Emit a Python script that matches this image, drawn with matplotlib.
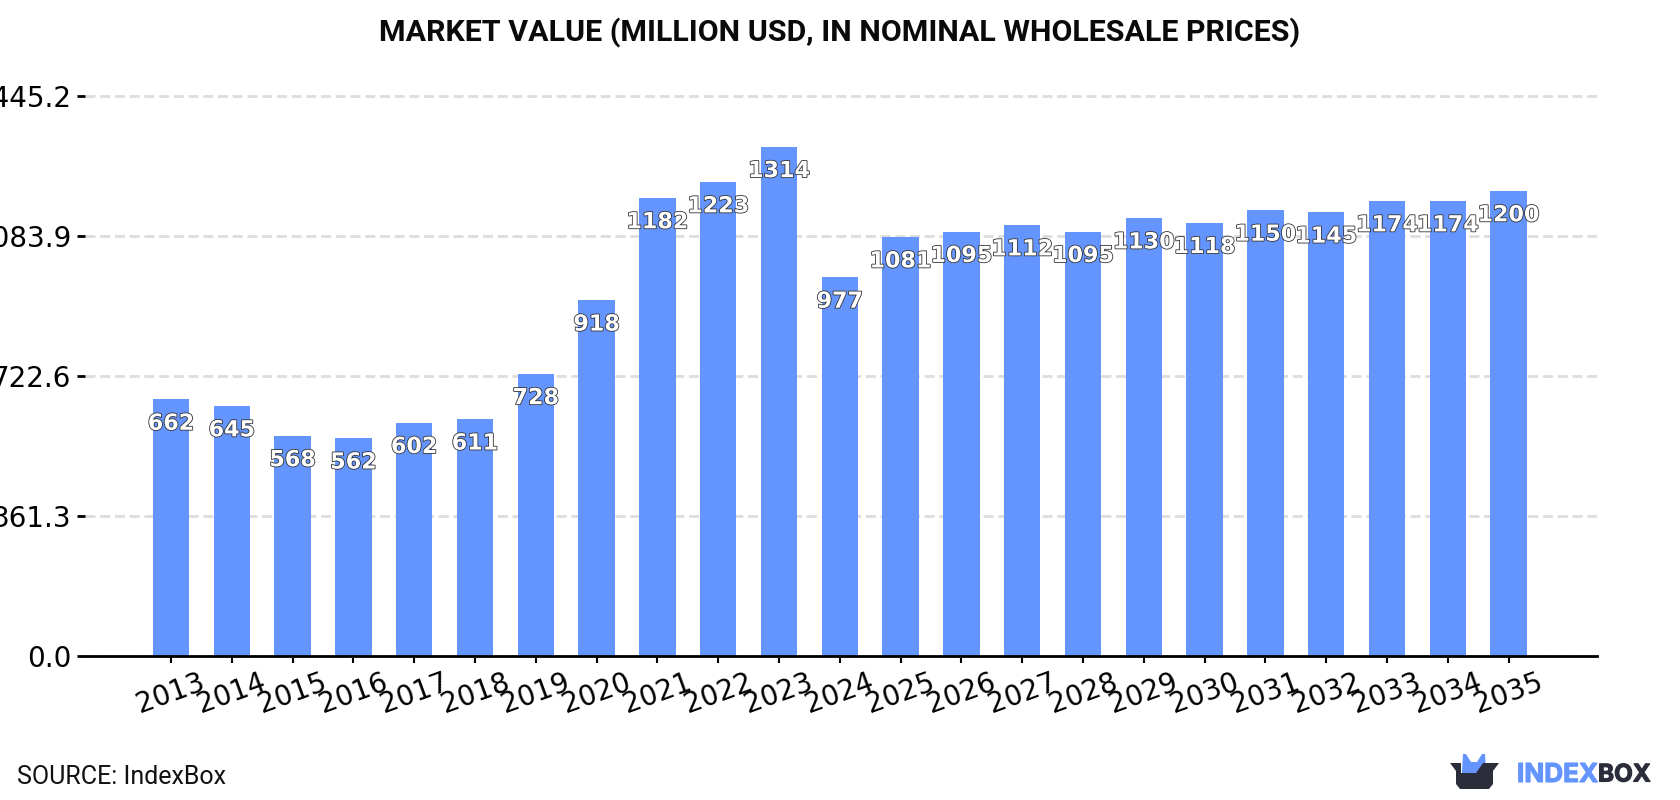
import matplotlib
matplotlib.use('Agg')
import matplotlib.pyplot as plt
import matplotlib.patheffects as pe
from matplotlib.patches import Polygon

years = ['2013', '2014', '2015', '2016', '2017', '2018', '2019', '2020', '2021', '2022', '2023', '2024',
         '2025', '2026', '2027', '2028', '2029', '2030', '2031', '2032', '2033', '2034', '2035']
values = [662, 645, 568, 562, 602, 611, 728, 918, 1182, 1223, 1314, 977,
          1081, 1095, 1112, 1095, 1130, 1118, 1150, 1145, 1174, 1174, 1200]
y_ticks = [0.0, 361.3, 722.6, 1083.9, 1445.2]

BLUE = '#6495ff'
DARK = '#2b2d3a'
W, H = 1680, 800

fig = plt.figure(figsize=(W / 100, H / 100), dpi=100)
left, right, bottom, top = 85, 1597, 656, 96
ax = fig.add_axes([left / W, 1 - bottom / H, (right - left) / W, (bottom - top) / H])

xs = list(range(len(years)))
ax.bar(xs, values, width=0.6, color=BLUE, zorder=2)
ax.set_xlim((left - 171) / 60.8, (right - 171) / 60.8)
ax.set_ylim(0, 1445.2)

for s in ['top', 'right', 'left']:
    ax.spines[s].set_visible(False)
ax.spines['bottom'].set_linewidth(2)

ax.set_yticks(y_ticks)
ax.set_yticklabels([f'{v:.1f}' for v in y_ticks])
ax.set_xticks(xs)
ax.set_xticklabels(years, rotation=20, ha='center')
ax.tick_params(axis='y', labelsize=20, length=5.5, width=2, pad=4.3)
ax.tick_params(axis='x', labelsize=20, length=5, width=1.5, pad=4)
ax.yaxis.grid(True, color='#dddddd', linestyle=(0, (3.6, 1.7)), linewidth=2, zorder=1)
for line in ax.yaxis.get_gridlines():
    line.set_clip_on(False)

# value labels sit just inside the top of each bar
for x, v in zip(xs, values):
    ax.annotate(str(v), (x, v), xytext=(0, -17.5), textcoords='offset points', ha='center', va='center',
                fontsize=16, fontweight='bold', color='white', zorder=3, annotation_clip=False,
                path_effects=[pe.withStroke(linewidth=1.2, foreground='#333333')])

fig.text(0.5, 1 - 33 / H, 'MARKET VALUE (MILLION USD, IN NOMINAL WHOLESALE PRICES)', ha='center', va='center',
         fontsize=21.9, fontweight='bold', family='Roboto', color='#0a0a0a')
fig.text(17 / W, 1 - 777 / H, 'SOURCE: IndexBox', ha='left', va='center', fontsize=18, family='Roboto', color='#111111')

# logo in pixel coordinates
logo = fig.add_axes([0, 0, 1, 1], zorder=5)
logo.set_xlim(0, W)
logo.set_ylim(H, 0)
logo.axis('off')
logo.add_patch(Polygon([[1462, 770], [1463, 754], [1466, 754], [1471, 762], [1477, 762], [1482, 754], [1485, 754],
                       [1486, 770], [1478, 773], [1462, 773]], closed=True, color=BLUE, lw=0))
logo.add_patch(Polygon([[1450, 763], [1461, 763], [1461, 773], [1476, 773], [1483, 763], [1499, 763], [1493, 771],
                       [1493, 784], [1489, 789], [1460, 789], [1456, 784], [1456, 771]], closed=True, color=DARK, lw=0))
logo.text(1517, 775, 'INDEX', ha='left', va='center', fontsize=18.8, fontweight='bold', family='Inter', color=BLUE,
          path_effects=[pe.withStroke(linewidth=0.8, foreground=BLUE)])
logo.text(1598, 775, 'BOX', ha='left', va='center', fontsize=17.5, fontweight='bold', family='Inter', color=DARK,
          path_effects=[pe.withStroke(linewidth=0.8, foreground=DARK)])

fig.savefig('out.png', dpi=100)
